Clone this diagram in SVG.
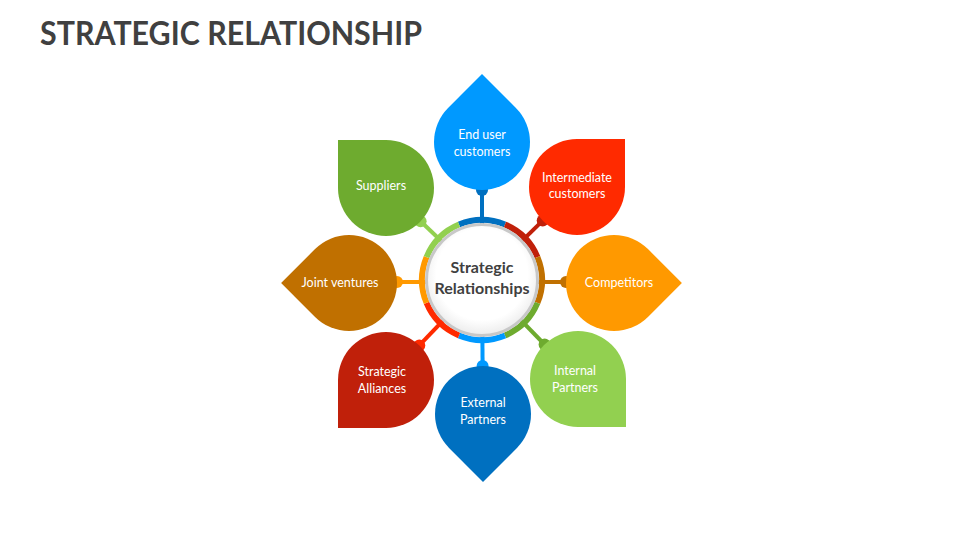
<svg xmlns="http://www.w3.org/2000/svg" xmlns:xlink="http://www.w3.org/1999/xlink" width="960" height="540" viewBox="0 0 960 540">
<style>
.title{font-family:Lato,"Open Sans","Liberation Sans",sans-serif;font-weight:bold;font-size:32px;fill:#404040}
.lbl{font-family:Lato,"Open Sans","Liberation Sans",sans-serif;font-size:12.5px;fill:#ffffff;text-anchor:middle}
.ctr{font-family:Lato,"Open Sans","Liberation Sans",sans-serif;font-weight:bold;font-size:16px;fill:#404040;text-anchor:middle}
.stem{stroke-width:4;fill:none}
.seg{stroke-width:6;fill:none}
</style>
<defs>
<path id="petal" d="M0,-48 H48 V0 A48,48 0 1 1 0,-48 Z"/>
<radialGradient id="wg" cx="50%" cy="45%" r="55%">
<stop offset="0.75" stop-color="#ffffff"/>
<stop offset="1" stop-color="#ececec"/>
</radialGradient>
</defs>
<text class="title" x="40" y="45" textLength="382" lengthAdjust="spacingAndGlyphs">STRATEGIC RELATIONSHIP</text>
<g id="connectors">
<line class="stem" stroke="#0070C0" x1="482" y1="280" x2="482" y2="190"/>
<circle cx="482" cy="190" r="6" fill="#0070C0"/>
<line class="stem" stroke="#C0200A" x1="482" y1="280" x2="542.7" y2="220.6"/>
<circle cx="542.7" cy="220.6" r="6" fill="#C0200A"/>
<line class="stem" stroke="#C07000" x1="482" y1="282" x2="566" y2="282"/>
<circle cx="566" cy="282" r="6" fill="#C07000"/>
<line class="stem" stroke="#6EAB2F" x1="482" y1="280" x2="544.6" y2="344.5"/>
<circle cx="544.6" cy="344.5" r="6" fill="#6EAB2F"/>
<line class="stem" stroke="#0099FF" x1="482" y1="280" x2="482.6" y2="366"/>
<circle cx="482.6" cy="366" r="6" fill="#0099FF"/>
<line class="stem" stroke="#FF2A00" x1="482" y1="280" x2="419.3" y2="345.4"/>
<circle cx="419.3" cy="345.4" r="6" fill="#FF2A00"/>
<line class="stem" stroke="#FF9900" x1="482" y1="282" x2="397" y2="282"/>
<circle cx="397" cy="282" r="6" fill="#FF9900"/>
<line class="stem" stroke="#92D050" x1="482" y1="280" x2="420.6" y2="221.2"/>
<circle cx="420.6" cy="221.2" r="6" fill="#92D050"/>
</g>
<g id="end-user">
<use xlink:href="#petal" href="#petal" fill="#0099FF" transform="translate(482,142) rotate(-45)"/>
<text class="lbl" x="482" y="139">End user</text>
<text class="lbl" x="482" y="156">customers</text>
</g>
<g id="intermediate">
<use xlink:href="#petal" href="#petal" fill="#FF2A00" transform="translate(577,187)"/>
<text class="lbl" x="577" y="182">Intermediate</text>
<text class="lbl" x="577" y="198">customers</text>
</g>
<g id="competitors">
<use xlink:href="#petal" href="#petal" fill="#FF9900" transform="translate(614,283) rotate(45)"/>
<text class="lbl" x="619" y="287">Competitors</text>
</g>
<g id="internal">
<use xlink:href="#petal" href="#petal" fill="#92D050" transform="translate(578,379) rotate(90)"/>
<text class="lbl" x="575" y="375">Internal</text>
<text class="lbl" x="575" y="392">Partners</text>
</g>
<g id="external">
<use xlink:href="#petal" href="#petal" fill="#0070C0" transform="translate(483,414) rotate(135)"/>
<text class="lbl" x="483" y="407">External</text>
<text class="lbl" x="483" y="424">Partners</text>
</g>
<g id="alliances">
<use xlink:href="#petal" href="#petal" fill="#C0200A" transform="translate(386,380) rotate(180)"/>
<text class="lbl" x="382" y="376">Strategic</text>
<text class="lbl" x="382" y="393">Alliances</text>
</g>
<g id="joint">
<use xlink:href="#petal" href="#petal" fill="#C07000" transform="translate(349,283) rotate(225)"/>
<text class="lbl" x="340" y="287">Joint ventures</text>
</g>
<g id="suppliers">
<use xlink:href="#petal" href="#petal" fill="#6EAB2F" transform="translate(386,188) rotate(-90)"/>
<text class="lbl" x="381" y="190">Suppliers</text>
</g>
<g id="center">
<path class="seg" stroke="#0070C0" d="M459.04,224.57 A60,60 0 0 1 504.96,224.57"/>
<path class="seg" stroke="#C0200A" d="M504.96,224.57 A60,60 0 0 1 537.43,257.04"/>
<path class="seg" stroke="#C07000" d="M537.43,257.04 A60,60 0 0 1 537.43,302.96"/>
<path class="seg" stroke="#6EAB2F" d="M537.43,302.96 A60,60 0 0 1 504.96,335.43"/>
<path class="seg" stroke="#0099FF" d="M504.96,335.43 A60,60 0 0 1 459.04,335.43"/>
<path class="seg" stroke="#FF2A00" d="M459.04,335.43 A60,60 0 0 1 426.57,302.96"/>
<path class="seg" stroke="#FF9900" d="M426.57,302.96 A60,60 0 0 1 426.57,257.04"/>
<path class="seg" stroke="#92D050" d="M426.57,257.04 A60,60 0 0 1 459.04,224.57"/>
<circle cx="482" cy="280" r="55.5" fill="url(#wg)" stroke="#C8C8C8" stroke-width="3"/>
<text class="ctr" x="482" y="273">Strategic</text>
<text class="ctr" x="482" y="294">Relationships</text>
</g>
</svg>
